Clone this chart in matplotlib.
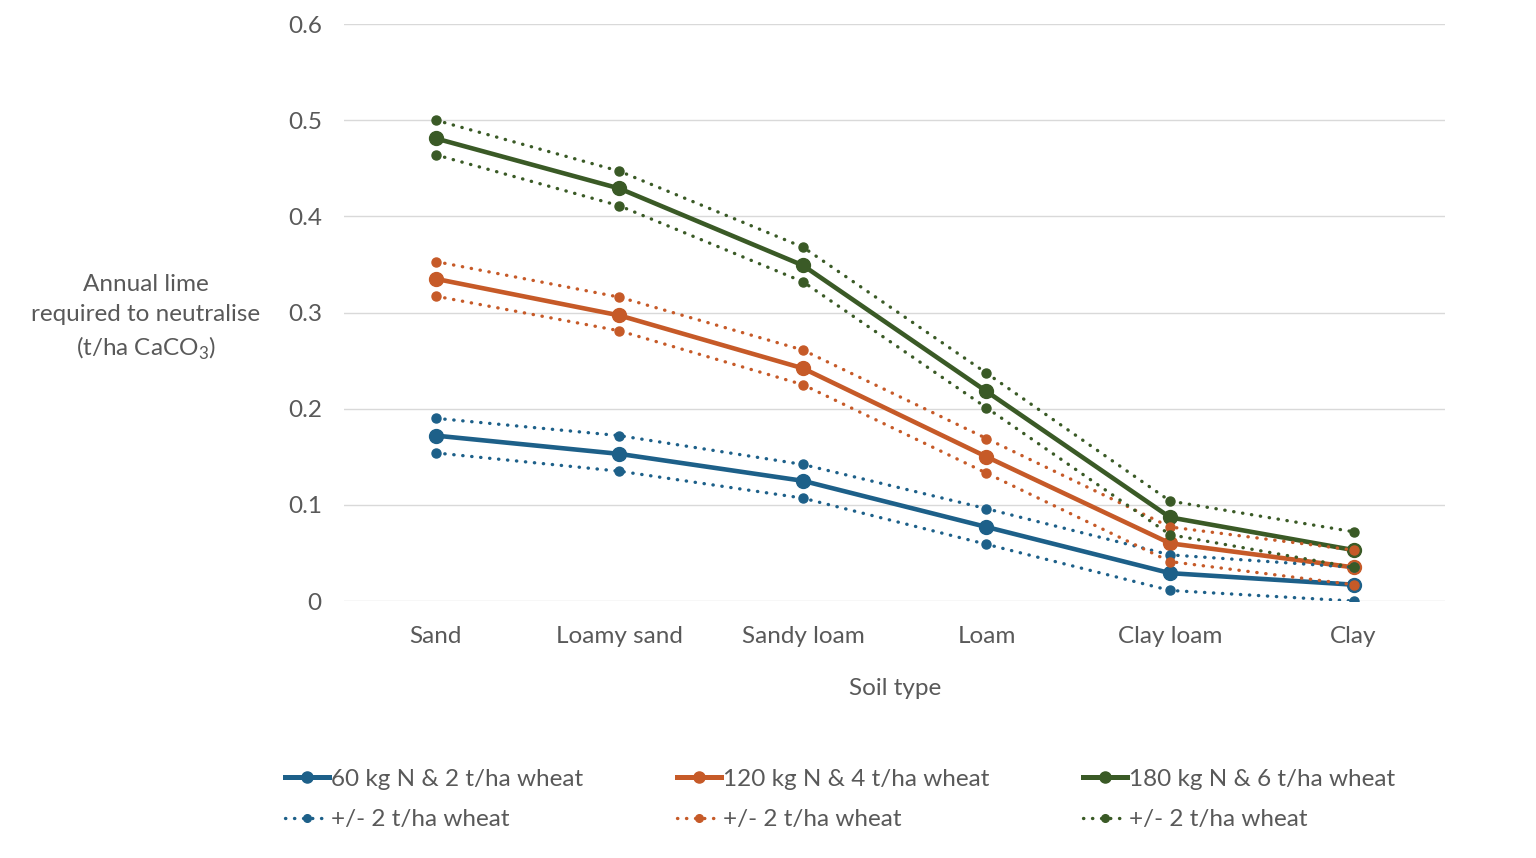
import numpy as np
import matplotlib.pyplot as plt
from matplotlib.lines import Line2D

soils = ['Sand', 'Loamy sand', 'Sandy loam', 'Loam', 'Clay loam', 'Clay']

# 60 kg N & 2 t/ha wheat
blue_main = [0.172, 0.153, 0.125, 0.077, 0.029, 0.017]
blue_hi = [0.190, 0.172, 0.142, 0.096, 0.048, 0.035]
blue_lo = [0.154, 0.135, 0.107, 0.059, 0.011, 0.000]
# 120 kg N & 4 t/ha wheat
orange_main = [0.335, 0.297, 0.242, 0.150, 0.060, 0.035]
orange_hi = [0.353, 0.316, 0.261, 0.169, 0.077, 0.053]
orange_lo = [0.317, 0.281, 0.225, 0.133, 0.041, 0.017]
# 180 kg N & 6 t/ha wheat
green_main = [0.481, 0.429, 0.349, 0.218, 0.087, 0.053]
green_hi = [0.500, 0.447, 0.368, 0.237, 0.104, 0.072]
green_lo = [0.464, 0.411, 0.332, 0.201, 0.069, 0.035]

main_labels = ['60 kg N & 2 t/ha wheat', '120 kg N & 4 t/ha wheat', '180 kg N & 6 t/ha wheat']
band_label = '+/- 2 t/ha wheat'

blue, orange, green = '#1d6089', '#c65a28', '#3a5a26'
grey = '#595959'

plt.rcParams['font.family'] = ['Lato', 'DejaVu Sans']
plt.rcParams['mathtext.fontset'] = 'custom'
plt.rcParams['mathtext.rm'] = 'Lato'

fs = 17.5

fig = plt.figure(figsize=(15.36, 8.58), dpi=100)
ax = fig.add_axes([0.224, 0.2995, 0.717, 0.6725])

x = np.arange(len(soils))
series = [(blue_main, blue_hi, blue_lo, blue),
          (orange_main, orange_hi, orange_lo, orange),
          (green_main, green_hi, green_lo, green)]

dot_style = (0, (0.1, 2.6))
for m, hi, lo, c in series:
    ax.plot(x, m, color=c, lw=3.3, marker='o', ms=10, zorder=3)
for m, hi, lo, c in series:
    for s in (hi, lo):
        ax.plot(x, s, color=c, lw=2.4, ls=dot_style, dash_capstyle='round',
                marker='o', ms=6.5, zorder=4)

ax.set_xlim(-0.5, len(soils) - 0.5)
ax.set_ylim(0, 0.6)
ax.set_yticks(np.arange(0, 0.61, 0.1))
ax.set_yticklabels(['0', '0.1', '0.2', '0.3', '0.4', '0.5', '0.6'])
ax.set_xticks(x)
ax.set_xticklabels(soils)
ax.tick_params(axis='both', length=0, labelsize=fs, labelcolor=grey)
ax.tick_params(axis='y', pad=16)
ax.tick_params(axis='x', pad=18)
ax.grid(axis='y', color='#d9d9d9', lw=1)
ax.set_axisbelow(True)
for sp in ax.spines.values():
    sp.set_visible(False)

ax.set_xlabel('Soil type', fontsize=fs, color=grey, labelpad=22)
fig.text(0.095, 0.629, 'Annual lime\nrequired to neutralise\n(t/ha CaCO$_3$)',
         ha='center', va='center', fontsize=fs, color=grey, linespacing=1.5)

handles = []
labels = []
for (m, hi, lo, c), lab in zip(series, main_labels):
    handles.append(Line2D([], [], color=c, lw=3.6, marker='o', ms=8))
    labels.append(lab)
    handles.append(Line2D([], [], color=c, lw=2.4, ls=dot_style,
                          dash_capstyle='round', marker='o', ms=5.5))
    labels.append(band_label)

leg = fig.legend(handles, labels, ncol=3, loc='center', bbox_to_anchor=(0.547, 0.068),
                 frameon=False, fontsize=fs, handlelength=1.8, handletextpad=0.1,
                 columnspacing=3.85, labelspacing=0.8)
for t in leg.get_texts():
    t.set_color(grey)

fig.savefig('out.png', dpi=100)
